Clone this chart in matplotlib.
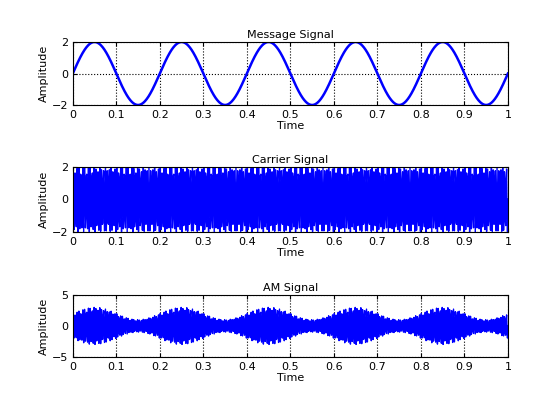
import numpy as np
import matplotlib
matplotlib.use("Agg")
import matplotlib.pyplot as plt

fs = 1000
msg_amp = 2.0
msg_freq = 5.0
car_amp = 2.0
car_freq = 230.0
am_offset = 2.0
am_index = 0.5
titles = ["Message Signal", "Carrier Signal", "AM Signal"]
ylims = [(-2, 2), (-2, 2), (-5, 5)]
yticks = [[-2, 0, 2], [-2, 0, 2], [-5, 0, 5]]
xticks = [0, 0.1, 0.2, 0.3, 0.4, 0.5, 0.6, 0.7, 0.8, 0.9, 1]
xticklabels = ["0", "0.1", "0.2", "0.3", "0.4", "0.5", "0.6", "0.7", "0.8", "0.9", "1"]

t = np.arange(0, 1 + 1e-9, 1 / fs)
m = msg_amp * np.sin(2 * np.pi * msg_freq * t)
c = car_amp * np.sin(2 * np.pi * car_freq * t)
am = (am_offset + am_index * m) * np.sin(2 * np.pi * car_freq * t)
signals = [m, c, am]

fig = plt.figure(figsize=(5.6, 4.2), dpi=100)
positions = [[0.130, 0.750, 0.777, 0.150],
             [0.130, 0.448, 0.777, 0.155],
             [0.130, 0.150, 0.777, 0.148]]
for pos, s, ti, yl, yt in zip(positions, signals, titles, ylims, yticks):
    ax = fig.add_axes(pos)
    ax.plot(t, s, color="blue", lw=1.8 if s is m else 1.0)
    ax.set_xlim(0, 1)
    ax.set_ylim(*yl)
    ax.set_xticks(xticks)
    ax.set_xticklabels(xticklabels)
    ax.set_yticks(yt)
    ax.grid(True, color="black", linestyle=":", linewidth=0.8)
    ax.tick_params(direction="in", labelsize=8, length=3, top=True, right=True)
    ax.set_title(ti, fontsize=8, pad=3)
    ax.set_xlabel("Time", fontsize=8, labelpad=1)
    ax.set_ylabel("Amplitude", fontsize=8, labelpad=2)
fig.savefig("out.png", dpi=100)
